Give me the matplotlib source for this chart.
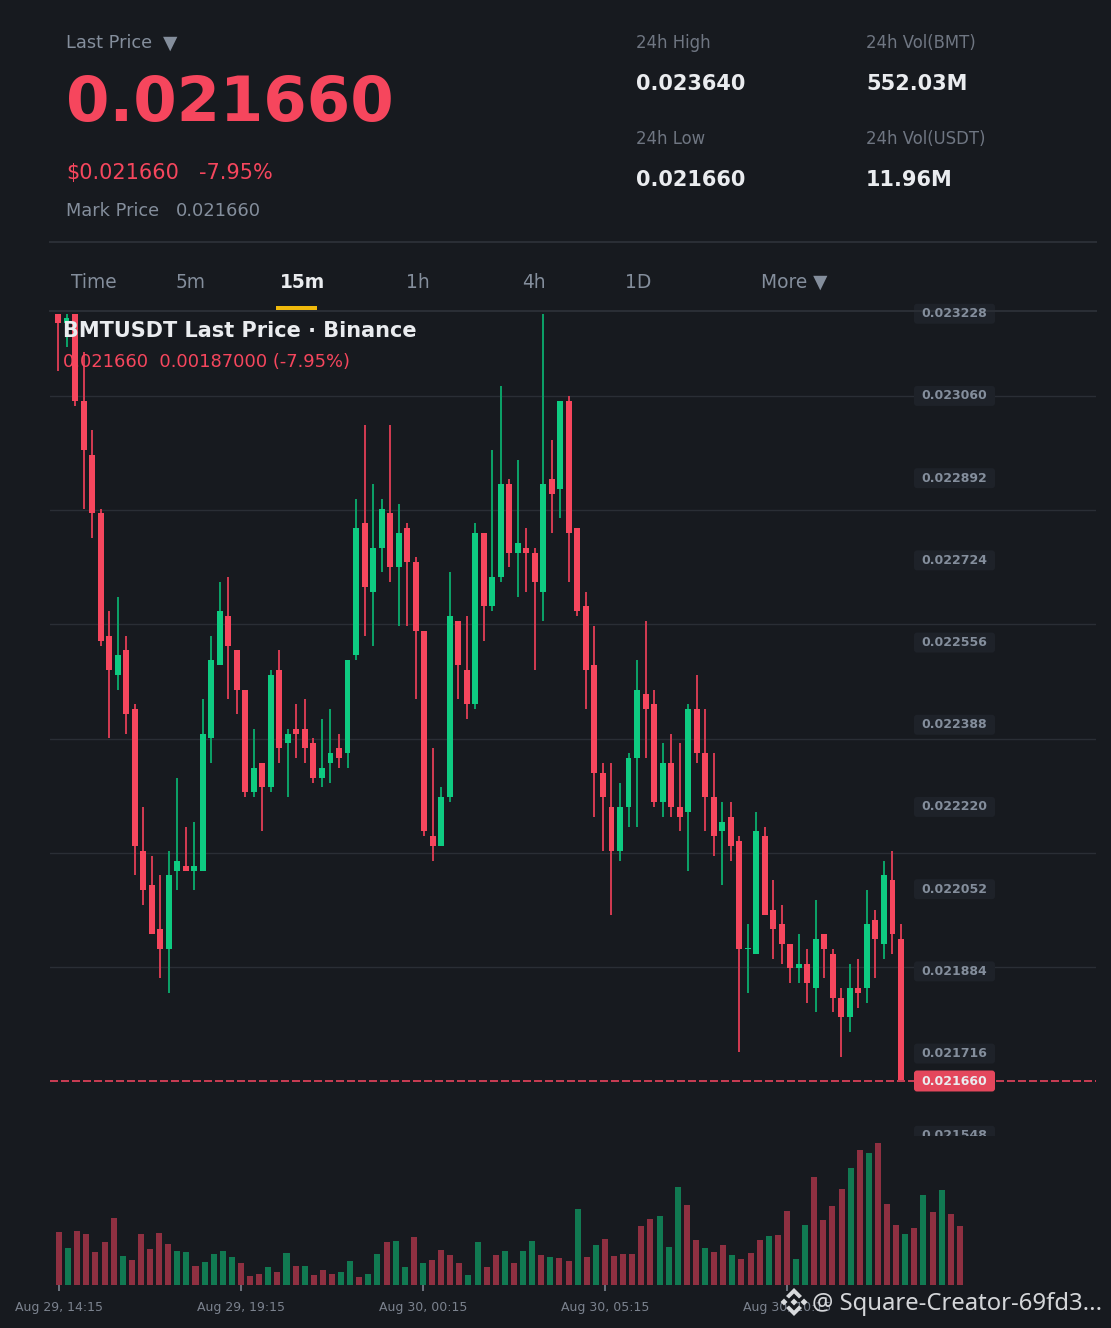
import numpy as np
import matplotlib
matplotlib.use("Agg")
from matplotlib import pyplot as plt
from matplotlib.patches import FancyBboxPatch, Rectangle, Polygon

# prices are in ticks of 0.00001
opens = [2325,2321,2325,2305,2294,2282,2257,2249,2254,2242,2213,2206,2197,2193,2209,2210,2209,2209,2236,2251,
         2261,2254,2246,2225,2231,2226,2250,2235,2238,2238,2235,2228,2231,2234,2233,2253,2280,2266,2275,2282,
         2271,2279,2272,2258,2216,2214,2224,2260,2250,2243,2278,2263,2269,2288,2274,2275,2274,2266,2289,2287,
         2305,2279,2263,2251,2229,2222,2213,2222,2232,2245,2243,2223,2231,2222,2221,2242,2233,2224,2217,2220,
         2215,2193,2192,2216,2201,2198,2194,2189,2190,2185,2196,2192,2183,2179,2185,2185,2199,2194,2207,2195]
closes = [2321,2322,2305,2295,2282,2256,2250,2253,2241,2214,2205,2196,2193,2208,2211,2209,2210,2237,2252,2262,
          2255,2246,2225,2230,2226,2249,2234,2237,2237,2234,2228,2230,2233,2232,2252,2279,2267,2275,2283,2271,
          2278,2272,2258,2217,2214,2224,2261,2251,2243,2278,2263,2269,2288,2274,2276,2274,2268,2288,2286,2305,
          2278,2262,2250,2229,2224,2213,2222,2232,2246,2242,2223,2231,2222,2220,2242,2233,2224,2216,2219,2214,
          2193,2193,2217,2200,2197,2194,2189,2190,2186,2195,2193,2183,2179,2185,2184,2198,2195,2208,2196,2166]
highs = [2326,2325,2326,2315,2299,2283,2262,2265,2257,2243,2222,2212,2208,2213,2228,2218,2219,2244,2257,2268,
         2269,2254,2246,2238,2231,2250,2254,2238,2243,2244,2236,2240,2242,2237,2252,2285,2300,2288,2285,2300,
         2284,2280,2273,2258,2234,2226,2270,2260,2261,2280,2278,2295,2308,2289,2293,2279,2275,2325,2297,2305,
         2306,2279,2266,2259,2231,2231,2227,2233,2252,2260,2246,2235,2237,2235,2243,2249,2242,2233,2223,2223,
         2216,2198,2221,2218,2207,2202,2194,2196,2193,2203,2196,2193,2185,2190,2191,2205,2201,2211,2213,2198]
lows = [2311,2316,2304,2283,2277,2255,2236,2246,2237,2208,2202,2196,2187,2184,2205,2209,2205,2209,2231,2251,
        2244,2241,2224,2224,2217,2225,2231,2224,2232,2231,2227,2226,2227,2230,2230,2252,2257,2255,2270,2268,
        2259,2259,2244,2216,2211,2214,2223,2244,2240,2242,2256,2262,2268,2271,2265,2266,2250,2260,2278,2281,
        2268,2261,2242,2220,2213,2200,2211,2218,2218,2232,2222,2220,2220,2217,2209,2231,2217,2212,2206,2211,
        2172,2184,2192,2200,2191,2190,2186,2186,2182,2180,2187,2180,2171,2176,2181,2182,2187,2191,2192,2166]
volumes = [53,37,54,51,33,43,67,29,25,51,36,52,41,34,33,19,23,31,34,28,
           22,9,11,18,13,32,19,19,10,15,11,13,24,8,11,31,43,44,18,48,
           22,25,35,30,22,10,43,18,30,34,22,34,44,30,28,27,24,76,28,40,
           46,29,31,31,59,66,69,38,98,80,45,37,33,40,30,26,32,45,49,50,
           74,26,60,108,65,79,96,117,135,132,142,81,60,51,57,90,73,95,71,59]

price_labels = [0.023228,0.023060,0.022892,0.022724,0.022556,0.022388,0.022220,0.022052,0.021884,0.021716,0.021548]
grid_prices = [0.023060,0.022827,0.022594,0.022359,0.022126,0.021893]
last_price = 0.021660
time_ticks = [0,20,40,60,80]
time_labels = ["Aug 29, 14:15","Aug 29, 19:15","Aug 30, 00:15","Aug 30, 05:15","Aug 30, 10:15"]
tabs = ["Time","5m","15m","1h","4h","1D","More ▼"]
tab_x = [71,176,280,406,522,625,761]

BG = "#171a1f"
GRID = "#2a2e35"
RED = "#f6465d"
GREEN = "#0ecb81"
RED_WICK = "#cf3a50"
GREEN_WICK = "#0b9f66"
RED_VOL = "#8f3041"
GREEN_VOL = "#117a52"
GREY = "#848e9c"
DIM = "#6f7682"
WHITE = "#eaecef"
W, H = 1111, 1328

plt.rcParams['font.family'] = ['DejaVu Sans']
fig = plt.figure(figsize=(W/100, H/100), dpi=100, facecolor=BG)

def axes_px(x0, y0, x1, y1):
    return fig.add_axes([x0/W, 1-y1/H, (x1-x0)/W, (y1-y0)/H])

# candles
ax = axes_px(50, 314, 1096, 1136)
ax.set_facecolor("none")
o = np.array(opens)*1e-5
c = np.array(closes)*1e-5
hi = np.array(highs)*1e-5
lo = np.array(lows)*1e-5
idx = np.arange(len(o))
up = c >= o
ax.set_xlim(-0.94, 121.9)
ax.set_ylim(0.0215476, 0.0232275)
for p in grid_prices:
    ax.axhline(p, color=GRID, lw=1.0, zorder=1)
ax.vlines(idx, lo, hi, colors=[GREEN_WICK if u else RED_WICK for u in up], lw=1.44, zorder=2)
body = np.maximum(np.abs(c-o), 0.000002)
ax.bar(idx, body, bottom=np.minimum(o, c), width=0.7, color=[GREEN if u else RED for u in up], zorder=3)
ax.axhline(last_price, color="#c63c52", lw=1.44, ls=(0, (4, 1.5)), zorder=4)
ax.axis("off")

# volume
vol = axes_px(50, 1136, 1096, 1285)
vol.set_facecolor("none")
vol.set_xlim(-0.99, 113.96)
vol.set_ylim(0, 149)
vol.bar(idx, volumes, width=0.66, color=[GREEN_VOL if u else RED_VOL for u in up])
vol.set_yticks([])
vol.set_xticks(time_ticks)
vol.set_xticklabels(time_labels, fontsize=9, color="#7b828e")
vol.tick_params(axis="x", length=4.3, width=1.44, color="#6b717c", pad=7)
for s in vol.spines.values():
    s.set_visible(False)

# page overlay in pixels
page = fig.add_axes([0, 0, 1, 1], zorder=5)
page.set_xlim(0, W)
page.set_ylim(H, 0)
page.axis("off")
page.patch.set_alpha(0)

def txt(x, y, s, size, color=GREY, weight="normal", **kw):
    return page.text(x, y, s, fontsize=size, color=color, fontweight=weight, va="center", ha=kw.pop("ha", "left"), **kw)

txt(66, 43, "Last Price", 12.8)
txt(163, 43, "▼", 13.5)
txt(66, 104.5, "0.021660", 44.9, RED, "bold")
txt(66, 173, "$0.021660", 15, RED)
txt(199, 173, "-7.95%", 15, RED)
txt(66, 211, "Mark Price", 12.8)
txt(176, 211, "0.021660", 12.9)
for x, lab, val, lab2, val2 in [(636, "24h High", "0.023640", "24h Low", "0.021660"),
                                (866, "24h Vol(BMT)", "552.03M", "24h Vol(USDT)", "11.96M")]:
    txt(x, 43, lab, 11.9, DIM)
    txt(x, 84.5, val, 15, WHITE, "bold")
    txt(x, 139, lab2, 11.9, DIM)
    txt(x, 179.5, val2, 15, WHITE, "bold")
page.plot([50, 1096], [242, 242], color=GRID, lw=1.44)
for x, t in zip(tab_x, tabs):
    if t == "15m":
        txt(x, 282, t, 13.4, WHITE, "bold")
    else:
        txt(x, 282, t, 13.4)
page.add_patch(Rectangle((276, 306), 41, 4, color="#f0b90b", lw=0))
page.plot([50, 1096], [311, 311], color=GRID, lw=1.44)
txt(63, 331, "BMTUSDT Last Price · Binance", 15, WHITE, "bold")
txt(63, 362, "0.021660  0.00187000 (-7.95%)", 12.87, RED)

# price labels, cut off where the volume pane starts
clip = Rectangle((900, 290), 110, 846, transform=page.transData)
def price_px(p):
    return page.transData.inverted().transform(ax.transData.transform((0, p)))[1]

for p in price_labels:
    y = price_px(p)
    pill = FancyBboxPatch((914, y-10), 81, 20, boxstyle="round,pad=0,rounding_size=3", fc="#1e2229", ec="none")
    page.add_patch(pill)
    pill.set_clip_path(clip)
    t = txt(954.5, y, "%.6f" % p, 9, GREY, "bold", ha="center")
    t.set_clip_path(clip)
    t.set_clip_on(True)
y = price_px(last_price)
page.add_patch(FancyBboxPatch((914, y-10.5), 81, 21, boxstyle="round,pad=0,rounding_size=3", fc="#e4475c", ec="none"))
txt(954.5, y, "%.6f" % last_price, 9, "#eaecef", "bold", ha="center")

# watermark logo, drawn around its centre
lx, ly = 794, 1302
logo_fc = "#d8dadd"
for dx, dy in [(0, 0), (-10, 0), (10, 0)]:
    page.add_patch(Polygon([(lx+dx-3.5, ly+dy), (lx+dx, ly+dy-3.5), (lx+dx+3.5, ly+dy), (lx+dx, ly+dy+3.5)], closed=True, fc=logo_fc, ec="none"))
for s in [1, -1]:
    page.add_patch(Polygon([(lx, ly-14*s), (lx+8, ly-6*s), (lx+5, ly-3.5*s), (lx, ly-8.5*s), (lx-5, ly-3.5*s), (lx-8, ly-6*s)], closed=True, fc=logo_fc, ec="none"))
txt(812, 1303.5, "@ Square-Creator-69fd3...", 17.2, "#d4d6d9", family=["Noto Sans", "DejaVu Sans"])

fig.savefig("out.png", dpi=100, facecolor=BG)
